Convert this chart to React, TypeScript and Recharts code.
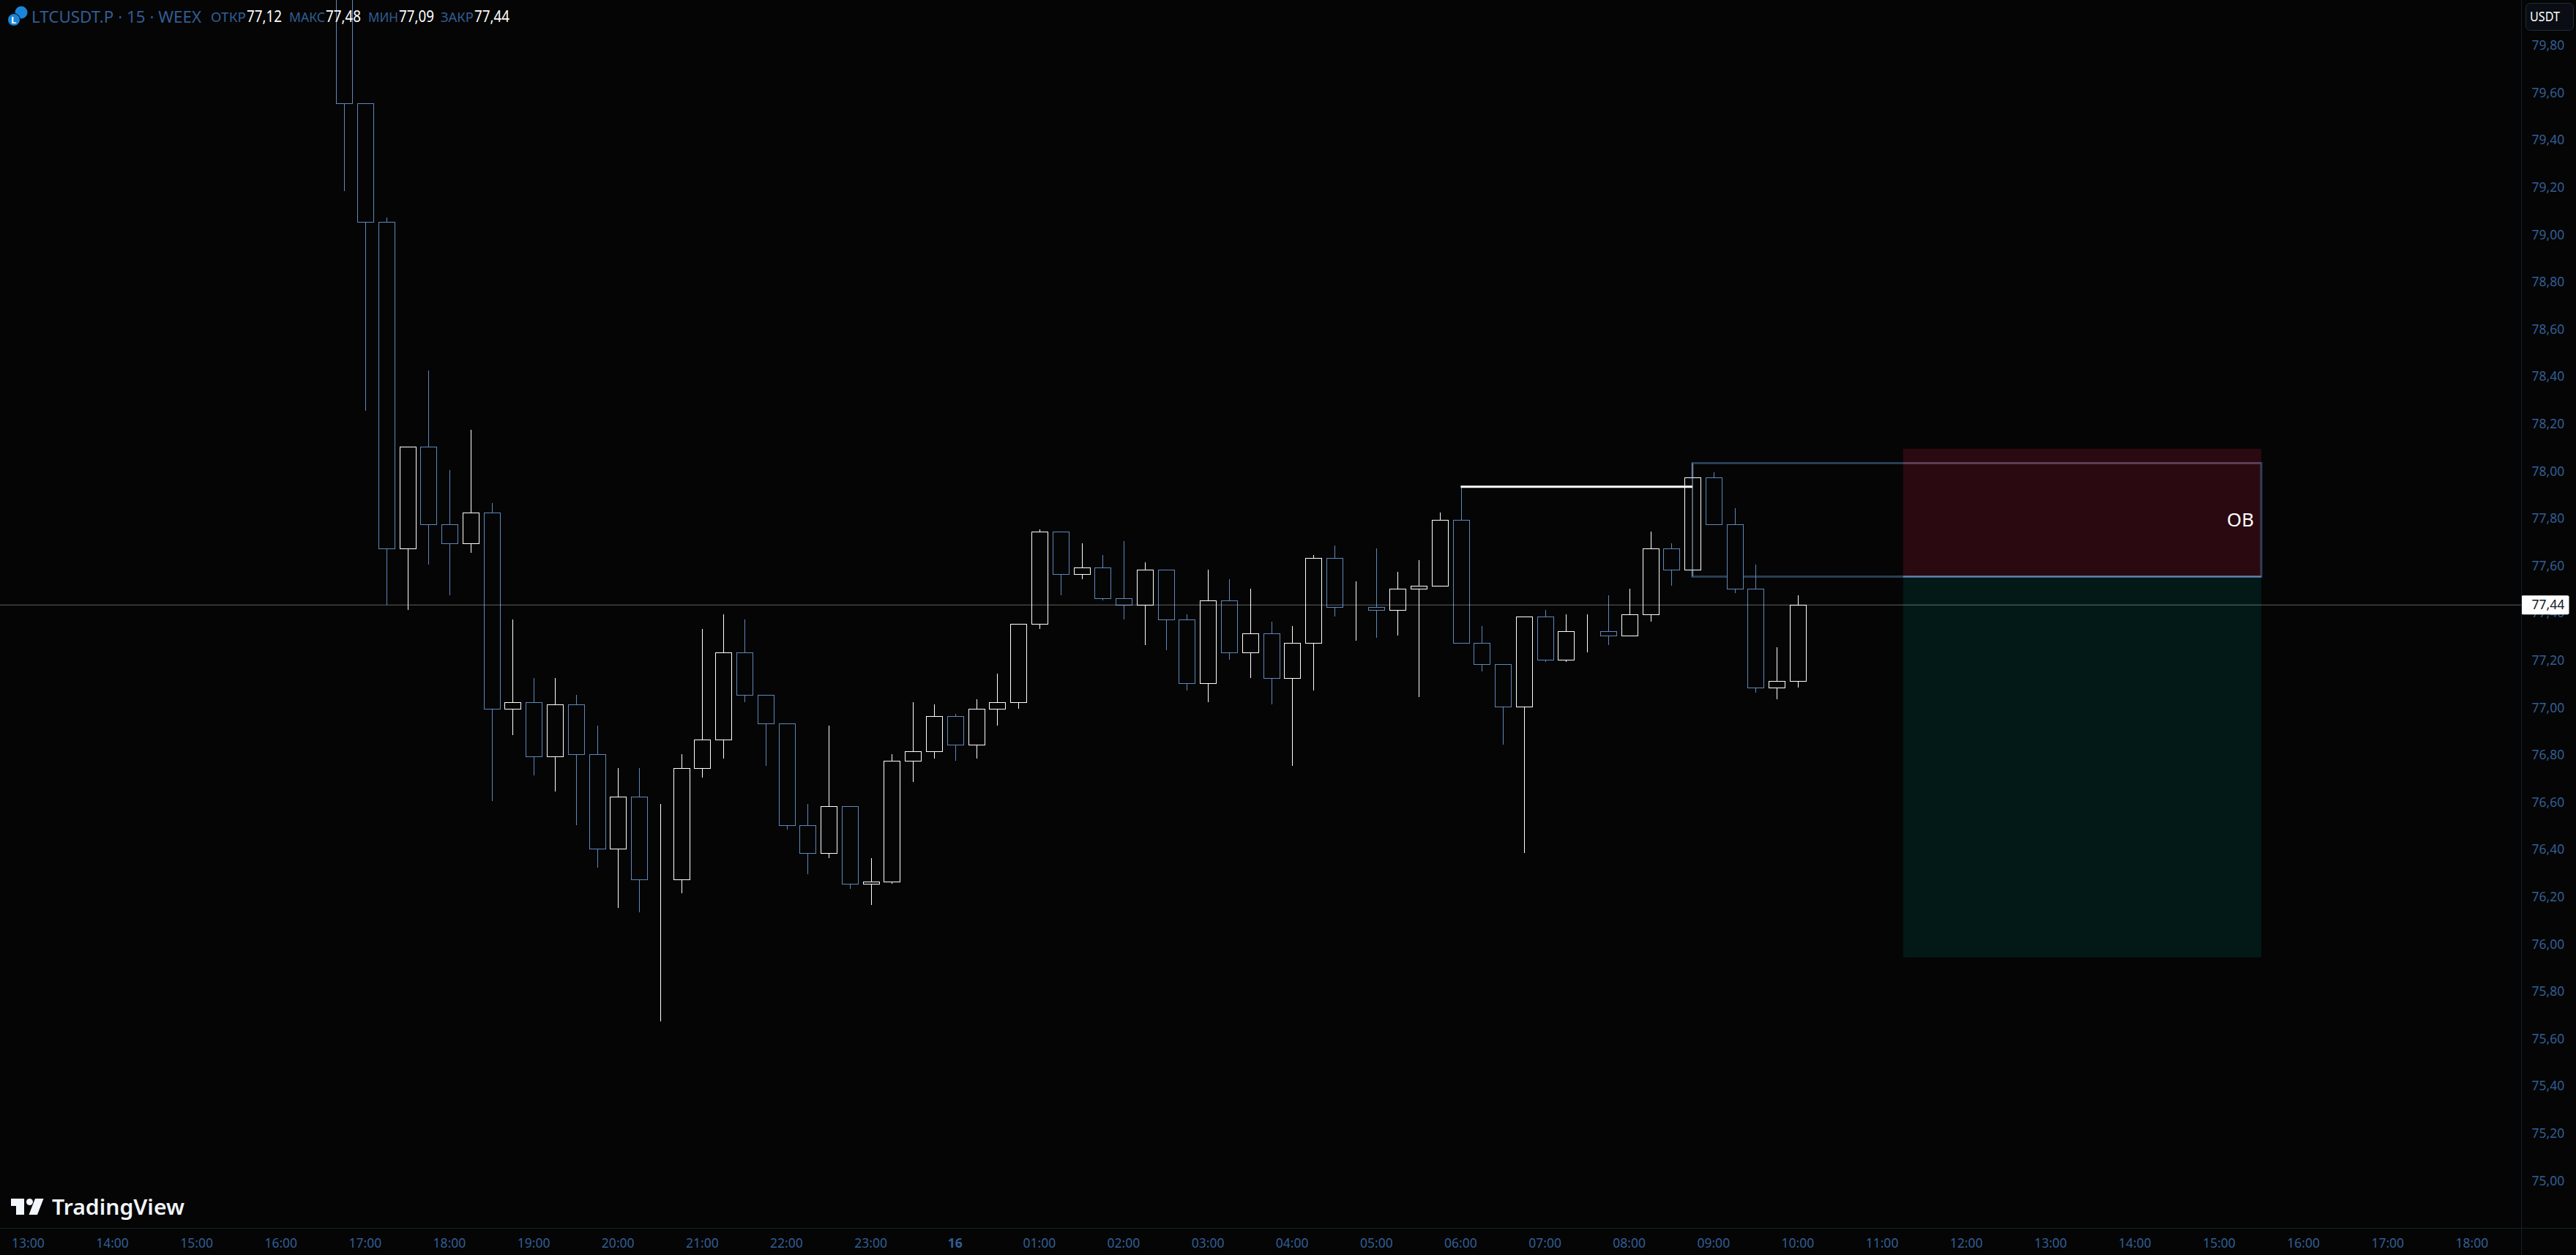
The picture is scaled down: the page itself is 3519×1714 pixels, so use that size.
import React from "react";
import { ComposedChart, Bar, XAxis, YAxis, ReferenceArea, ReferenceLine } from "recharts";

const BG = "#050505";
const UP = "#ffffff";
const DOWN = "#5f87b9";
const AXIS_TEXT = "#315e94";
const AXIS_LINE = "#14202b";
const FONT = "'Noto Sans', sans-serif";

// one 15 minute slot = one candle, slot 0 is 13:00
const firstSlot = 15;
const opens = [
  80.25, 79.56, 79.06, 77.68, 78.11, 77.78, 77.7, 77.83, 77.0, 77.03, 76.8, 77.02, 76.81, 76.41, 76.63, 76.28, 76.28, 76.75,
  76.87, 77.24, 77.06, 76.94, 76.51, 76.39, 76.59, 76.26, 76.27, 76.78, 76.82, 76.97, 76.85, 77.0, 77.03, 77.36, 77.75, 77.57,
  77.6, 77.47, 77.44, 77.59, 77.38, 77.11, 77.46, 77.24, 77.32, 77.13, 77.28, 77.64, 77.43, 77.43, 77.42, 77.51, 77.52, 77.8,
  77.28, 77.19, 77.01, 77.39, 77.21, 77.33, 77.33, 77.31, 77.4, 77.68, 77.59, 77.98, 77.78, 77.51, 77.09, 77.12,
];
const highs = [
  80.3, 79.56, 79.08, 78.11, 78.43, 78.01, 78.18, 77.87, 77.38, 77.13, 77.13, 77.06, 76.93, 76.75, 76.75, 76.6, 76.81, 77.34,
  77.4, 77.38, 77.06, 76.94, 76.6, 76.93, 76.59, 76.37, 76.81, 77.03, 77.02, 76.98, 77.04, 77.15, 77.36, 77.76, 77.75, 77.7,
  77.65, 77.71, 77.62, 77.59, 77.4, 77.59, 77.55, 77.51, 77.37, 77.35, 77.65, 77.69, 77.54, 77.68, 77.58, 77.63, 77.83, 77.94,
  77.35, 77.19, 77.39, 77.42, 77.4, 77.4, 77.48, 77.51, 77.75, 77.7, 77.98, 78.0, 77.85, 77.61, 77.26, 77.48,
];
const lows = [
  79.19, 78.26, 77.44, 77.42, 77.61, 77.48, 77.66, 76.61, 76.89, 76.72, 76.65, 76.51, 76.33, 76.16, 76.14, 75.68, 76.22, 76.71,
  76.79, 77.03, 76.76, 76.49, 76.3, 76.37, 76.24, 76.17, 76.26, 76.69, 76.79, 76.78, 76.79, 76.93, 77.0, 77.34, 77.48, 77.55,
  77.46, 77.38, 77.27, 77.25, 77.08, 77.03, 77.21, 77.13, 77.02, 76.76, 77.08, 77.39, 77.29, 77.3, 77.31, 77.05, 77.52, 77.28,
  77.16, 76.85, 76.39, 77.2, 77.2, 77.24, 77.27, 77.31, 77.37, 77.52, 77.59, 77.78, 77.49, 77.07, 77.04, 77.09,
];
const closes = [
  79.56, 79.06, 77.68, 78.11, 77.78, 77.7, 77.83, 77.0, 77.03, 76.8, 77.02, 76.81, 76.41, 76.63, 76.28, 76.28, 76.75, 76.87,
  77.24, 77.06, 76.94, 76.51, 76.39, 76.59, 76.26, 76.27, 76.78, 76.82, 76.97, 76.85, 77.0, 77.03, 77.36, 77.75, 77.57, 77.6,
  77.47, 77.44, 77.59, 77.38, 77.11, 77.46, 77.24, 77.32, 77.13, 77.28, 77.64, 77.43, 77.43, 77.42, 77.51, 77.52, 77.8, 77.28,
  77.19, 77.01, 77.39, 77.21, 77.33, 77.33, 77.31, 77.4, 77.68, 77.59, 77.98, 77.78, 77.51, 77.09, 77.12, 77.44,
];

const hourLabels = [
  "13:00", "14:00", "15:00", "16:00", "17:00", "18:00", "19:00", "20:00", "21:00", "22:00", "23:00", "16",
  "01:00", "02:00", "03:00", "04:00", "05:00", "06:00", "07:00", "08:00", "09:00", "10:00", "11:00", "12:00",
  "13:00", "14:00", "15:00", "16:00", "17:00", "18:00",
];
const priceTicks = [
  75, 75.2, 75.4, 75.6, 75.8, 76, 76.2, 76.4, 76.6, 76.8, 77, 77.2, 77.4, 77.6, 77.8, 78, 78.2, 78.4, 78.6, 78.8, 79, 79.2, 79.4,
  79.6, 79.8,
];

// drawings on the chart: [slot, slot] and [price, price]
const swingSlots = [68, 79];
const swingPrice = 77.94;
const blockSlots = [79, 106];
const blockPrices = [77.56, 78.04];
const zoneSlots = [89, 106];
const riskPrices = [77.56, 78.1];
const rewardPrices = [75.95, 77.56];

const candles = opens.map((open, i) => ({ slot: firstSlot + i, open, high: highs[i], low: lows[i], close: closes[i] }));
const lastCandle = candles[candles.length - 1];
const hourTicks = hourLabels.map((_, i) => i * 4);
const comma = (v: number) => v.toFixed(2).replace(".", ",");

const Candle = (props: any) => {
  const { x, y, width, height, payload } = props;
  const { open, high, low, close } = payload;
  const perUnit = height / (high - low);
  const yOf = (p: number) => y + (high - p) * perUnit;
  const color = close >= open ? UP : DOWN;
  const cx = Math.round(x + width / 2) + 0.5;
  const top = Math.round(yOf(Math.max(open, close))) + 0.5;
  const bottom = Math.round(yOf(Math.min(open, close))) + 0.5;
  const half = Math.floor(width / 2);
  return (
    <g shapeRendering="crispEdges">
      <line x1={cx} x2={cx} y1={yOf(high)} y2={yOf(low)} stroke={color} strokeWidth={1} />
      <rect x={cx - half} y={top} width={half * 2} height={bottom - top} fill={BG} stroke={color} strokeWidth={1} />
    </g>
  );
};

// the last tick is the live price, it sits on top of the regular labels
const PriceTick = (props: any) => {
  const { x, y, payload, index } = props;
  if (index === priceTicks.length) {
    return (
      <g>
        <rect x={x - 14} y={y - 13} width={65} height={26} rx={2} fill="#ffffff" />
        <text x={x} y={y} dy="0.355em" fill="#111722" fontFamily={FONT} fontSize={17.5}>
          {comma(payload.value)}
        </text>
      </g>
    );
  }
  return (
    <text x={x} y={y - 2} dy="0.355em" fill={AXIS_TEXT} fontFamily={FONT} fontSize={17.5}>
      {comma(payload.value)}
    </text>
  );
};

const TimeTick = (props: any) => {
  const { x, y, payload } = props;
  const label = hourLabels[payload.value / 4];
  return (
    <text
      x={x}
      y={y}
      dy="0.71em"
      textAnchor="middle"
      fill={AXIS_TEXT}
      fontFamily={FONT}
      fontSize={17.5}
      fontWeight={label.length === 2 ? 700 : 400}
    >
      {label}
    </text>
  );
};

const Txt = ({ x, y, size = 21, color = "#ffffff", weight = 400, width, children }: any) => (
  <text
    x={x}
    y={y}
    fill={color}
    fontSize={size}
    fontWeight={weight}
    fontFamily={FONT}
    textLength={width}
    lengthAdjust="spacingAndGlyphs"
  >
    {children}
  </text>
);

export default function App() {
  return (
    <div style={{ position: "absolute", left: 0, top: 0, width: 3519, height: 1714, background: BG, overflow: "hidden" }}>
      <ComposedChart
        width={3519}
        height={1714}
        data={candles}
        margin={{ top: 0, right: 0, bottom: 0, left: 0 }}
        barCategoryGap={0}
      >
        <XAxis
          dataKey="slot"
          type="number"
          domain={[-1.334, 118.35]}
          allowDataOverflow
          ticks={hourTicks}
          interval={0}
          height={37}
          tickLine={false}
          axisLine={false}
          tick={<TimeTick />}
          tickMargin={9}
        />
        <YAxis
          orientation="right"
          type="number"
          domain={[74.806, 79.998]}
          allowDataOverflow
          ticks={[...priceTicks, lastCandle.close]}
          interval={0}
          width={74.5}
          tickLine={false}
          axisLine={false}
          tick={<PriceTick />}
          tickMargin={8}
        />
        <ReferenceArea x1={zoneSlots[0]} x2={zoneSlots[1]} y1={riskPrices[0]} y2={riskPrices[1]} fill="#2a0a10" fillOpacity={1} stroke="none" />
        <ReferenceArea x1={zoneSlots[0]} x2={zoneSlots[1]} y1={rewardPrices[0]} y2={rewardPrices[1]} fill="#021918" fillOpacity={1} stroke="none" />
        <ReferenceLine y={lastCandle.close} stroke="#ffffff" strokeOpacity={0.75} strokeDasharray="1 1" />
        <Bar dataKey={(d: any) => [d.low, d.high]} barSize={23} shape={<Candle />} isAnimationActive={false} />
        <ReferenceArea
          x1={blockSlots[0]}
          x2={blockSlots[1]}
          y1={blockPrices[0]}
          y2={blockPrices[1]}
          fill="none"
          stroke="#5b8ec8"
          strokeOpacity={0.42}
          strokeWidth={3}
        />
        <ReferenceLine
          segment={[
            { x: blockSlots[0], y: blockPrices[0] },
            { x: blockSlots[0], y: blockPrices[1] },
          ]}
          stroke="#a9c4d8"
          strokeWidth={1}
        />
        <ReferenceLine
          segment={[
            { x: zoneSlots[0], y: blockPrices[1] },
            { x: zoneSlots[1], y: blockPrices[1] },
          ]}
          stroke="#5c3d55"
          strokeWidth={3}
        />
        <ReferenceLine
          segment={[
            { x: zoneSlots[0], y: blockPrices[0] },
            { x: zoneSlots[1], y: blockPrices[0] },
          ]}
          stroke="#6485b4"
          strokeWidth={2}
        />
        <ReferenceLine
          segment={[
            { x: swingSlots[0], y: swingPrice },
            { x: swingSlots[1], y: swingPrice },
          ]}
          stroke="#ffffff"
          strokeWidth={3}
        />
      </ComposedChart>

      <svg width={3519} height={1714} style={{ position: "absolute", left: 0, top: 0, pointerEvents: "none" }}>
        {/* pane borders run to the edge of the page */}
        <line x1={3444.5} x2={3444.5} y1={0} y2={1714} stroke={AXIS_LINE} />
        <line x1={0} x2={3519} y1={1677.5} y2={1677.5} stroke={AXIS_LINE} />

        {/* order block label */}
        <Txt x={3042} y={719} size={26} width={37}>OB</Txt>

        {/* symbol legend */}
        <circle cx={29} cy={17} r={8.5} fill="#1a85d8" />
        <circle cx={19} cy={27} r={8.5} fill="#1a85d8" stroke={BG} strokeWidth={1} />
        <text x={15} y={32} fontSize={13} fontWeight={700} fontFamily={FONT} fill="#ffffff">L</text>
        <Txt x={43} y={31} size={22} color={AXIS_TEXT} width={232}>LTCUSDT.P · 15 · WEEX</Txt>
        <Txt x={288} y={30} size={18} color={AXIS_TEXT} width={48}>ОТКР</Txt>
        <Txt x={337} y={30} width={48}>{comma(opens[opens.length - 1])}</Txt>
        <Txt x={395} y={30} size={18} color={AXIS_TEXT} width={49}>МАКС</Txt>
        <Txt x={445} y={30} width={48}>{comma(highs[highs.length - 1])}</Txt>
        <Txt x={503} y={30} size={18} color={AXIS_TEXT} width={41}>МИН</Txt>
        <Txt x={545} y={30} width={48}>{comma(lows[lows.length - 1])}</Txt>
        <Txt x={602} y={30} size={18} color={AXIS_TEXT} width={45}>ЗАКР</Txt>
        <Txt x={648} y={30} width={48}>{comma(lastCandle.close)}</Txt>

        {/* currency button */}
        <rect x={3450.5} y={4.5} width={65} height={37} rx={6} fill="#0a0e14" stroke="#1d2c3c" />
        <Txt x={3456} y={29} size={18} width={41}>USDT</Txt>

        {/* watermark */}
        <path d="M15 1637H33V1659H22V1647H15Z" fill="#f2f5fa" />
        <circle cx={40.5} cy={1641.5} r={4.5} fill="#f2f5fa" />
        <path d="M48 1637H59.5L51 1659H39.5Z" fill="#f2f5fa" />
        <Txt x={71} y={1659} size={29} weight={600} color="#f2f5fa" width={181}>TradingView</Txt>
      </svg>
    </div>
  );
}
